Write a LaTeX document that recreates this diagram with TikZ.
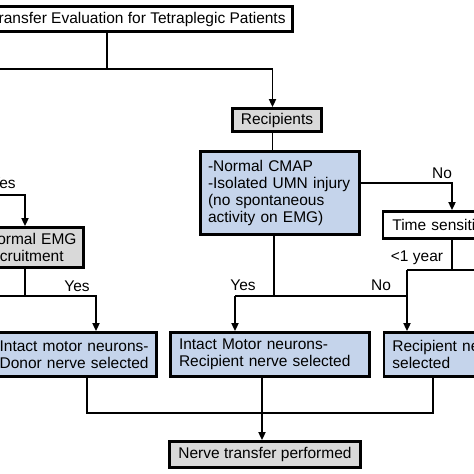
\documentclass[tikz,border=0pt]{standalone}
\usepackage{fontspec}
\setmainfont{Liberation Sans}
\usetikzlibrary{arrows.meta}
\definecolor{boxblue}{RGB}{197,212,235}
\definecolor{boxgray}{RGB}{217,217,217}
\tikzset{
  box/.style={draw=black, line width=2.8pt, inner ysep=0pt, font=\fontsize{15.5}{16.7}\selectfont},
  bluebox/.style={box, fill=boxblue},
  graybox/.style={box, fill=boxgray},
  whitebox/.style={box, fill=white},
  conn/.style={line width=1.8pt, draw=black},
  arr/.style={conn, -{Triangle[length=8pt,width=7pt]}},
  lbl/.style={font=\fontsize{15.5}{16.7}\selectfont, inner sep=0pt}
}
\begin{document}
\begin{tikzpicture}[x=1pt,y=-1pt]
\useasboundingbox (0,0) rectangle (474,474);
\fill[white] (0,0) rectangle (474,474);
\clip (0,0) rectangle (474,474);

% nodes
\node[whitebox, anchor=east, inner xsep=6.5pt, minimum height=25pt] (top) at (293.5,19) {Nerve Transfer Evaluation for Tetraplegic Patients};
\node[graybox, inner xsep=0pt, minimum width=89pt, minimum height=23pt] (recip) at (277,120) {Recipients};
\node[bluebox, inner xsep=7.5pt, text width=144pt, align=left, minimum width=159pt, minimum height=83pt] (cmap) at (280,193) {-Normal CMAP\\-Isolated UMN injury\\(no spontaneous\\activity on EMG)};
\node[whitebox, anchor=west, inner xsep=9.5pt, text width=120pt, align=left, minimum height=27pt] (time) at (381.5,225) {Time sensitive};
\node[graybox, anchor=east, inner xsep=2pt, text width=95pt, align=left, minimum height=40pt] (emg) at (84.5,247.5) {Normal EMG\\recruitment};
\node[bluebox, anchor=east, inner xsep=6.5pt, text width=150pt, align=left, minimum height=44pt] (box1) at (157.5,354.5) {Intact motor neurons-\\Donor nerve selected};
\node[bluebox, inner xsep=8.5pt, text width=182pt, align=left, minimum width=199pt, minimum height=44pt] (box2) at (270,354.5) {Intact Motor neurons-\\Recipient nerve selected};
\node[bluebox, anchor=west, inner xsep=8.5pt, text width=130pt, align=left, minimum height=44pt] (box3) at (382.5,354.5) {Recipient nerve\\selected};
\node[graybox, inner xsep=0pt, minimum width=191pt, minimum height=26pt] (final) at (265,454.5) {Nerve transfer performed};

% labels
\node[lbl] (yesA) at (3,183) {Yes};
\node[lbl] (yesB) at (77,286) {Yes};
\node[lbl] (yesC) at (243,285) {Yes};
\node[lbl] (noA) at (442,173) {No};
\node[lbl] (noB) at (381,285) {No};
\node[lbl] (year) at (417,258) {<1 year};

% junction coordinates
\coordinate (j0) at (107,69);
\coordinate (offL) at (-20,69);
\coordinate (a1) at (272.5,69);
\coordinate (n1) at (452,183);
\coordinate (n2) at (274,296);
\coordinate (n3) at (235,296);
\coordinate (n4) at (407,296);
\coordinate (n5) at (452,270);
\coordinate (n6) at (407,270);
\coordinate (offR) at (490,270);
\coordinate (offL2) at (-20,195);
\coordinate (l1) at (25,195);
\coordinate (l2) at (25,296);
\coordinate (offL3) at (-20,296);
\coordinate (l3) at (96,296);
\coordinate (b1) at (87,413);
\coordinate (b2) at (262,413);
\coordinate (b3) at (433,413);

% connectors
\draw[conn] (j0 |- top.south) -- (j0);
\draw[arr] (offL) -- (a1) -- (a1 |- recip.north);
\draw[conn] (a1 |- recip.south) -- (a1 |- cmap.north);
\draw[arr] (cmap.east |- n1) -- (n1) -- (n1 |- time.north);
\draw[conn] (n2 |- cmap.south) -- (n2);
\draw[conn] (n3) -- (n4);
\draw[arr] (n3) -- (n3 |- box2.north);
\draw[conn] (n5 |- time.south) -- (n5);
\draw[conn] (n6) -- (offR);
\draw[arr] (n6) -- (n6 |- box3.north);
\draw[arr] (offL2) -- (l1) -- (l1 |- emg.north);
\draw[conn] (l2 |- emg.south) -- (l2);
\draw[arr] (offL3) -- (l3) -- (l3 |- box1.north);
\draw[conn] (b1 |- box1.south) -- (b1) -- (b3) -- (b3 |- box3.south);
\draw[arr] (b2 |- box2.south) -- (b2 |- final.north);
\end{tikzpicture}
\end{document}
